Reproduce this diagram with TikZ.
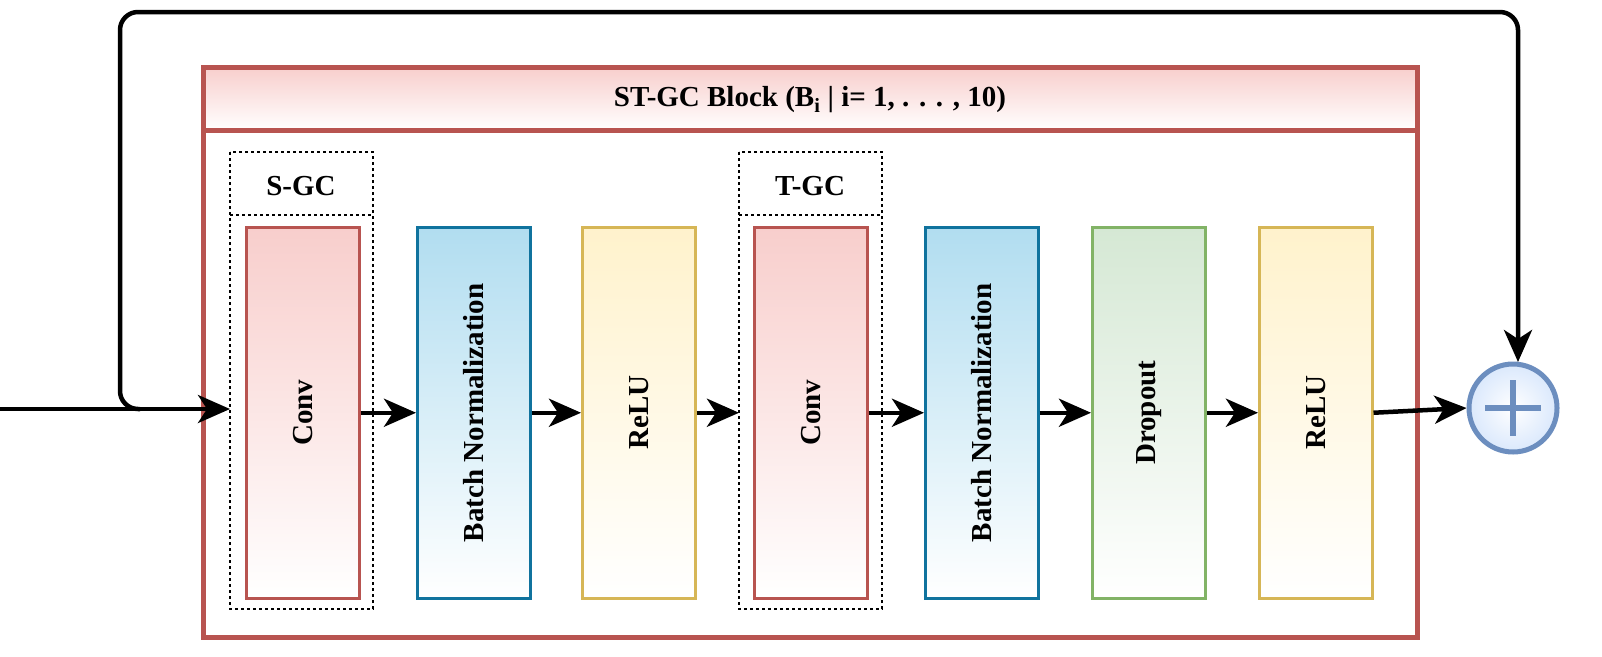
\documentclass[tikz,border=0pt]{standalone}
\usepackage{fontspec}
\setmainfont{Liberation Serif}
\usetikzlibrary{arrows.meta}
\definecolor{rd}{HTML}{B85450}\definecolor{rdf}{HTML}{F8CECC}
\definecolor{bl}{HTML}{10739E}\definecolor{blf}{HTML}{B1DDF0}
\definecolor{yl}{HTML}{D6B656}\definecolor{ylf}{HTML}{FFF2CC}
\definecolor{gn}{HTML}{82B366}\definecolor{gnf}{HTML}{D5E8D4}
\definecolor{pb}{HTML}{6C8EBF}\definecolor{pbf}{HTML}{DAE8FC}
\begin{document}
\begin{tikzpicture}[x=1pt,y=-1pt,
  box/.style={line width=2.5pt,inner sep=0pt,minimum width=113pt,minimum height=371pt,anchor=north west},
  txt/.style={rotate=90,font=\fontsize{29}{32}\selectfont\bfseries},
  lbl/.style={font=\fontsize{29}{32}\selectfont\bfseries},
  arr/.style={line width=4.5pt,-{Stealth[length=32pt,width=28pt,inset=9pt]}},
  dsh/.style={draw,dashed,line width=2pt}]
% outer block
\draw[rd,line width=5pt,top color=rdf,bottom color=white] (203,67) rectangle (1417,130);
\draw[rd,line width=5pt] (203,130) rectangle (1417,637);
\node[font=\fontsize{29}{32}\selectfont\bfseries] (title) at (810,100) {ST-GC Block (B\textsubscript{i} | i= 1, . . . , 10)};
% dashed groups
\draw[dsh] (230,152) rectangle (373,609); \draw[dsh] (230,215) -- (373,215);
\node[lbl] (sgc) at (301,186) {S-GC};
\draw[dsh] (739,152) rectangle (882,609); \draw[dsh] (739,215) -- (882,215);
\node[lbl] (tgc) at (810,186) {T-GC};
% layers
\node[box,draw=rd,top color=rdf,bottom color=white] (c1) at (245,226) {};
\node[txt] at (c1.center) {Conv};
\node[box,draw=bl,top color=blf,bottom color=white] (b1) at (416,226) {};
\node[txt] at (b1.center) {Batch Normalization};
\node[box,draw=yl,top color=ylf,bottom color=white] (r1) at (581,226) {};
\node[txt] at (r1.center) {ReLU};
\node[box,draw=rd,top color=rdf,bottom color=white] (c2) at (753,226) {};
\node[txt] at (c2.center) {Conv};
\node[box,draw=bl,top color=blf,bottom color=white] (b2) at (924,226) {};
\node[txt] at (b2.center) {Batch Normalization};
\node[box,draw=gn,top color=gnf,bottom color=white] (d1) at (1091,226) {};
\node[txt] at (d1.center) {Dropout};
\node[box,draw=yl,top color=ylf,bottom color=white] (r2) at (1258,226) {};
\node[txt] at (r2.center) {ReLU};
% plus
\node[circle,draw=pb,line width=5pt,inner color=white,outer color=pbf,minimum size=88pt] (p) at (1513,408) {};
\draw[pb,line width=6pt] (1485,408) -- (1541,408) (1513,380) -- (1513,436);
% arrows
\coordinate (in) at (0,409); \coordinate (sin) at (230,409); \coordinate (tin) at (739,409);
\draw[arr] (in) -- (sin);
\draw[arr] (c1.east) -- (b1.west);
\draw[arr] (b1.east) -- (r1.west);
\draw[arr] (r1.east) -- (r1.east -| tin);
\draw[arr] (c2.east) -- (b2.west);
\draw[arr] (b2.east) -- (d1.west);
\draw[arr] (d1.east) -- (r2.west);
\draw[arr] (r2.east) -- (p.west);
\coordinate (top) at (1518,362);
\draw[arr,rounded corners=18pt] (140,409) -- (120,409) -- (120,12) -- (1518,12) -- (top);
\pgfresetboundingbox
\useasboundingbox (0,0) rectangle (1602,656);
\end{tikzpicture}
\end{document}
